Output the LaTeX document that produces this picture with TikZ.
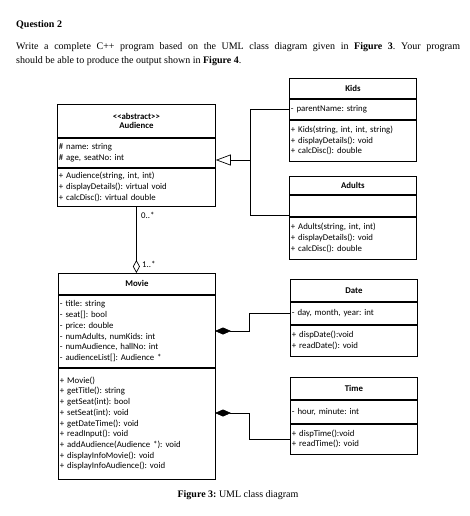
\documentclass[tikz,border=0pt]{standalone}
\usepackage{fontspec}
\setmainfont{Liberation Serif}
\newfontfamily\umlfont{Carlito}
\usetikzlibrary{arrows.meta}
\frenchspacing
\tikzset{
  cmp/.style={draw, line width=0.8pt, anchor=north west, inner xsep=1.5pt, inner ysep=0pt,
    font=\umlfont\fontsize{8.8}{10.7}\selectfont, align=left},
  hdr/.style={cmp, align=center, font=\umlfont\bfseries\fontsize{8.8}{9}\selectfont},
  conn/.style={line width=0.7pt},
  mult/.style={anchor=west, inner sep=0pt, font=\umlfont\fontsize{8.8}{9}\selectfont},
  txt/.style={anchor=base west, inner sep=0pt, font=\fontsize{10}{12}\selectfont}
}
\begin{document}
\begin{tikzpicture}[x=1pt,y=-1pt]
\useasboundingbox (0,0) rectangle (469,516);
% text
\node[txt] (q) at (16,28) {\textbf{Question 2}};
\node[txt] (l1) at (16,50) {\makebox[444pt][s]{\frenchspacing Write a complete C++ program based on the UML class diagram given in \textbf{Figure 3}. Your program}};
\node[txt] (l2) at (16,64) {should be able to produce the output shown in \textbf{Figure 4}.};
\node[txt, anchor=base] (cap) at (238,497) {\textbf{Figure 3:} UML class diagram};
% Audience
\node[hdr, text width=155pt, minimum height=33pt] (audH) at (57,104) {<<abstract>>\\Audience};
\node[cmp, text width=155pt, minimum height=29pt] (audA) at (audH.south west) {\# name: string\\\# age, seatNo: int};
\node[cmp, text width=155pt, minimum height=38pt] (audM) at (audA.south west) {+ Audience(string, int, int)\\+ displayDetails(): virtual void\\+ calcDisc(): virtual double};
% Kids
\node[hdr, text width=124pt, minimum height=20pt] (kidH) at (289,78) {Kids};
\node[cmp, text width=124pt, minimum height=20pt] (kidA) at (kidH.south west) {- parentName: string};
\node[cmp, text width=124pt, minimum height=41pt] (kidM) at (kidA.south west) {+ Kids(string, int, int, string)\\+ displayDetails(): void\\+ calcDisc(): double};
% Adults
\node[hdr, text width=124pt, minimum height=18pt] (adH) at (289,176) {Adults};
\node[cmp, text width=124pt, minimum height=21pt] (adA) at (adH.south west) {};
\node[cmp, text width=124pt, minimum height=42pt] (adM) at (adA.south west) {+ Adults(string, int, int)\\+ displayDetails(): void\\+ calcDisc(): double};
% Movie
\node[hdr, text width=154pt, minimum height=21pt] (movH) at (58,273) {Movie};
\node[cmp, text width=154pt, minimum height=72pt] (movA) at (movH.south west) {- title: string\\- seat[]: bool\\- price: double\\- numAdults, numKids: int\\- numAudience, hallNo: int\\- audienceList[]: Audience *};
\node[cmp, text width=154pt, minimum height=111pt] (movM) at (movA.south west) {+ Movie()\\+ getTitle(): string\\+ getSeat(int): bool\\+ setSeat(int): void\\+ getDateTime(): void\\+ readInput(): void\\+ addAudience(Audience *): void\\+ displayInfoMovie(): void\\+ displayInfoAudience(): void};
% Date
\node[hdr, text width=124pt, minimum height=22pt] (datH) at (290,279) {Date};
\node[cmp, text width=124pt, minimum height=22pt] (datA) at (datH.south west) {- day, month, year: int};
\node[cmp, text width=124pt, minimum height=31pt] (datM) at (datA.south west) {+ dispDate():void\\+ readDate(): void};
% Time
\node[hdr, text width=124pt, minimum height=22pt] (timH) at (290,377) {Time};
\node[cmp, text width=124pt, minimum height=23pt] (timA) at (timH.south west) {- hour, minute: int};
\node[cmp, text width=124pt, minimum height=30pt] (timM) at (timA.south west) {+ dispTime():void\\+ readTime(): void};
% inheritance
\coordinate (ja) at (250,215);
\coordinate (jt) at (250,160);
\draw[conn] (kidA.west) -| (ja) -- (ja -| adM.west);
\draw[conn, -{Triangle[open, length=15pt, width=11pt]}] (jt) -- (jt -| audA.east);
% aggregation
\draw[conn, -{Diamond[open, length=13pt, width=7pt]}] (audM.south) -- (audM.south |- movH.north);
\node[mult] (m1) at (141,215) {0..*};
\node[mult] (m2) at (142,264) {1..*};
% compositions
\coordinate (cd) at (215,331);
\coordinate (ct) at (215,413);
\draw[conn, {Diamond[length=16pt, width=7pt]}-] (cd) -- (249,331) |- (datA.west);
\draw[conn, {Diamond[length=16pt, width=7pt]}-] (ct) -- (249,413) |- (timM.west);
\end{tikzpicture}
\end{document}
